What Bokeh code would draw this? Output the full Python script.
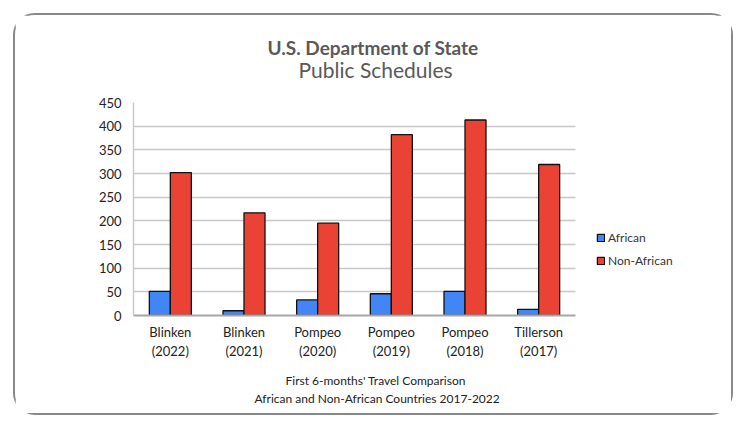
import numpy as np
from bokeh.plotting import figure
from bokeh.models import Range1d, Legend, LegendItem, Title, ColumnDataSource, FixedTicker
from bokeh.embed import file_html
from bokeh.resources import INLINE

categories = ["Blinken\n(2022)", "Blinken\n(2021)", "Pompeo\n(2020)",
              "Pompeo\n(2019)", "Pompeo\n(2018)", "Tillerson\n(2017)"]
african = [51, 10, 33, 46, 51, 13]
non_african = [302, 217, 195, 382, 413, 319]
series_names = ["African", "Non-African"]
y_ticks = [0, 50, 100, 150, 200, 250, 300, 350, 400, 450]

FONT = "Lato"
BLUE = "#4285F4"
RED = "#EA4335"

n = len(categories)
centers = np.arange(n) + 0.5
bw = 0.285
src = ColumnDataSource(dict(xa=centers - bw / 2, xn=centers + bw / 2,
                            african=african, non=non_african))

W, H = 720, 402
AXW = 442            # width in px of the category area
FW, FH = 567, 213    # frame extends right to hold the legend
p = figure(x_range=Range1d(0, n * FW / AXW), y_range=Range1d(0, 450),
           width=W, height=H, output_backend="svg", toolbar_location=None,
           min_border_left=118, min_border_right=W - 118 - FW,
           min_border_top=87, min_border_bottom=H - 87 - FH)
p.styles = {"border": "2px solid #888888", "border-radius": "22px", "margin": "13px"}
p.outline_line_color = None

r1 = p.vbar(x="xa", top="african", width=bw, source=src,
            fill_color=BLUE, line_color="#111111", line_width=1.3)
r2 = p.vbar(x="xn", top="non", width=bw, source=src,
            fill_color=RED, line_color="#111111", line_width=1.3)

p.yaxis.ticker = y_ticks
p.xaxis.ticker = FixedTicker(ticks=list(centers))
p.xaxis.major_label_overrides = {float(c): lab for c, lab in zip(centers, categories)}
p.xaxis.bounds = (0, n)
p.xgrid.grid_line_color = None
p.ygrid.grid_line_color = "#C8C8C8"
p.ygrid.grid_line_width = 1.5
p.ygrid.cross_bounds = (0, n)
for ax in (p.xaxis, p.yaxis):
    ax.major_tick_line_color = None
    ax.minor_tick_line_color = None
    ax.major_tick_out = 0
    ax.major_tick_in = 0
    ax.major_label_text_font = FONT
    ax.major_label_text_color = "#222222"
    ax.major_label_text_font_size = "13px"
p.yaxis.axis_line_color = "#C8C8C8"
p.yaxis.axis_line_width = 1.5
p.yaxis.major_label_standoff = 12
p.xaxis.axis_line_color = "#A6A6A6"
p.xaxis.axis_line_width = 2
p.xaxis.major_label_standoff = 8

legend = Legend(items=[LegendItem(label=series_names[0], renderers=[r1]),
                       LegendItem(label=series_names[1], renderers=[r2])],
                location=(AXW + 21, 47), padding=0, margin=0, spacing=8,
                glyph_width=9, glyph_height=9, label_standoff=3,
                border_line_color=None, background_fill_alpha=0,
                label_text_font=FONT, label_text_font_size="12px",
                label_text_color="#333333")
p.add_layout(legend)

def title(text, place, offset, size, style="normal", color="#595959", standoff=4):
    p.add_layout(Title(text=text, align="left", offset=offset,
                       text_font=FONT, text_font_size=size, standoff=standoff,
                       text_font_style=style, text_color=color), place)

title("Public Schedules", "above", 165, "21px", standoff=42)
title("U.S. Department of State", "above", 134, "19px", "bold", standoff=-50)
title("First 6-months' Travel Comparison", "below", 152, "12px", color="#222222", standoff=18)
title("African and Non-African Countries 2017-2022", "below", 121, "12px", color="#222222", standoff=-19)

open("out.html", "w").write(file_html(p, INLINE))
